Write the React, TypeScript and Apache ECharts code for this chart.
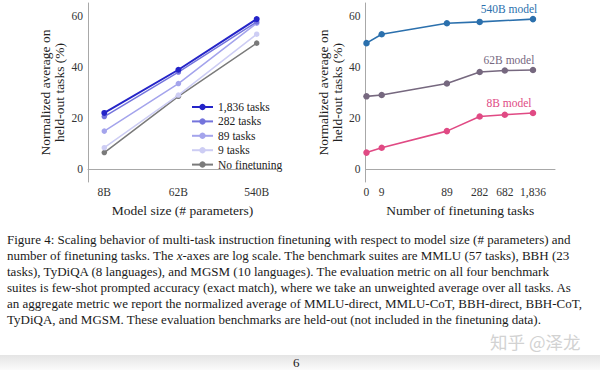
import React, { useEffect, useRef } from "react";
import * as echarts from "echarts";

// ---------- data ----------
const modelSizes = [8, 62, 540];
const modelLabels = ["8B", "62B", "540B"];

const leftSeriesNames = ["1,836 tasks", "282 tasks", "89 tasks", "9 tasks", "No finetuning"];
const tasks1836 = [22.0, 38.9, 58.7];
const tasks282 = [20.6, 38.0, 57.6];
const tasks89 = [14.9, 33.5, 57.1];
const tasks9 = [8.4, 29.0, 52.8];
const noFinetuning = [6.5, 28.5, 49.3];

const taskCounts = [0, 9, 89, 282, 682, 1836];
const taskLabels = ["0", "9", "89", "282", "682", "1,836"];
const model540B = [49.3, 52.8, 57.1, 57.6, null, 58.7];
const model62B = [28.5, 29.0, 33.5, 38.0, 38.6, 38.8];
const model8B = [6.5, 8.4, 14.9, 20.6, 21.3, 22.0];
const rightSeriesNames = ["540B model", "62B model", "8B model"];

const yTicks = [0, 20, 40, 60];

const captionLines = [
  "Figure 4: Scaling behavior of multi-task instruction finetuning with respect to model size (# parameters) and",
  "number of finetuning tasks. The {i|x}-axes are log scale. The benchmark suites are MMLU (57 tasks), BBH (23",
  "tasks), TyDiQA (8 languages), and MGSM (10 languages). The evaluation metric on all four benchmark",
  "suites is few-shot prompted accuracy (exact match), where we take an unweighted average over all tasks. As",
  "an aggregate metric we report the normalized average of MMLU-direct, MMLU-CoT, BBH-direct, BBH-CoT,",
  "TyDiQA, and MGSM. These evaluation benchmarks are held-out (not included in the finetuning data).",
];

// ---------- styling ----------
const FONT = "Liberation Serif";
const leftColors = ["#2424c8", "#7474dc", "#a4a4ec", "#cdcdf4", "#7a7a7a"];
const rightColors = ["#2b70ad", "#76687f", "#e04a84"];
const ZERO_TASK_POS = 0.722; // axis position used for the 0-task baseline on the log axis

const logPos = (n: number) => (n === 0 ? ZERO_TASK_POS : Math.log10(n));

export default function App() {
  const ref = useRef<HTMLDivElement>(null);

  useEffect(() => {
    if (!ref.current) return;
    const chart = echarts.init(ref.current, null, { renderer: "svg" });

    const leftData = [tasks1836, tasks282, tasks89, tasks9, noFinetuning];
    const leftSeries = leftData.map((vals, i) => ({
      name: leftSeriesNames[i],
      type: "line",
      xAxisIndex: 0,
      yAxisIndex: 0,
      data: vals.map((v, j) => [Math.log10(modelSizes[j]), v]),
      symbol: "circle",
      symbolSize: i === 0 ? 6 : 5.5,
      lineStyle: { width: i === 0 ? 2 : 1.5, color: leftColors[i] },
      itemStyle: { color: leftColors[i] },
      z: 10 - i,
    }));

    const rightData = [model540B, model62B, model8B];
    const rightSeries = rightData.map((vals, i) => {
      const pts: any[] = [];
      vals.forEach((v, j) => {
        if (v === null) return;
        pts.push([logPos(taskCounts[j]), v]);
      });
      const last = pts.length - 1;
      const data = pts.map((p, k) =>
        k === last
          ? {
              value: p,
              label: {
                show: true,
                position: "top",
                distance: 2,
                offset: [-24, 1],
                formatter: rightSeriesNames[i],
                color: rightColors[i],
                fontFamily: FONT,
                fontSize: 11.5,
              },
            }
          : { value: p }
      );
      return {
        name: rightSeriesNames[i],
        type: "line",
        xAxisIndex: 1,
        yAxisIndex: 1,
        data,
        symbol: "circle",
        symbolSize: 6.5,
        lineStyle: { width: 1.6, color: rightColors[i] },
        itemStyle: { color: rightColors[i] },
      };
    });

    const axisLine = { show: true, lineStyle: { color: "#a8a8a8", width: 1 } };
    const yAxisCommon = {
      type: "value",
      min: -5,
      max: 65,
      interval: 5,
      axisLine,
      axisTick: { show: false },
      splitLine: { show: false },
      axisLabel: {
        formatter: (v: number) => (yTicks.includes(v) ? String(v) : ""),
        color: "#333",
        fontFamily: FONT,
        fontSize: 11.5,
        margin: 5,
      },
      name: "Normalized average on\nheld-out tasks (%)",
      nameLocation: "middle",
      nameRotate: 90,
      nameTextStyle: { fontFamily: FONT, fontSize: 13.5, color: "#222", lineHeight: 14.5 },
    };

    const leftTickPos = modelSizes.map((s) => Math.log10(s));
    const rightTickPos = taskCounts.map((n) => logPos(n));
    const findLabel = (v: number, pos: number[], labels: string[]) => {
      let best = 0;
      pos.forEach((p, i) => {
        if (Math.abs(p - v) < Math.abs(pos[best] - v)) best = i;
      });
      return labels[best];
    };

    const option: any = {
      animation: false,
      backgroundColor: "#ffffff",
      textStyle: { fontFamily: FONT },
      grid: [
        { left: 88, right: 323, top: 3, bottom: 188 },
        { left: 365.5, right: 45, top: 3, bottom: 188 },
      ],
      legend: {
        data: leftSeriesNames,
        orient: "vertical",
        left: 186,
        top: 96,
        itemWidth: 21,
        itemHeight: 8,
        itemGap: 2.4,
        textStyle: { fontFamily: FONT, fontSize: 11.5, color: "#222", lineHeight: 11 },
      },
      xAxis: [
        {
          type: "value",
          gridIndex: 0,
          min: 0.7074,
          max: 2.976,
          axisLine,
          axisTick: { show: false },
          splitLine: { show: false },
          axisLabel: {
            customValues: leftTickPos,
            formatter: (v: number) => findLabel(v, leftTickPos, modelLabels),
            color: "#333",
            fontFamily: FONT,
            fontSize: 11.5,
            margin: 4,
          },
          name: "Model size (# parameters)",
          nameLocation: "middle",
          nameGap: 21,
          nameTextStyle: { fontFamily: FONT, fontSize: 13.5, color: "#222" },
        },
        {
          type: "value",
          gridIndex: 1,
          min: 0.7069,
          max: 3.6,
          axisLine,
          axisTick: { show: false },
          splitLine: { show: false },
          axisLabel: {
            customValues: rightTickPos,
            formatter: (v: number) => findLabel(v, rightTickPos, taskLabels),
            color: "#333",
            fontFamily: FONT,
            fontSize: 11.5,
            margin: 4,
          },
          name: "Number of finetuning tasks",
          nameLocation: "middle",
          nameGap: 21,
          nameTextStyle: { fontFamily: FONT, fontSize: 13.5, color: "#222" },
        },
      ],
      yAxis: [
        { ...yAxisCommon, gridIndex: 0, nameGap: 21 },
        { ...yAxisCommon, gridIndex: 1, nameGap: 19 },
      ],
      series: [...leftSeries, ...rightSeries],
      graphic: [
        ...captionLines.map((line, i) => ({
          type: "text",
          left: 7,
          top: 233 + i * 16,
          style: {
            text: line,
            fontFamily: FONT,
            fontSize: 13,
            fill: "#1a1a1a",
            rich: {
              i: { fontStyle: "italic", fontFamily: FONT, fontSize: 13, fill: "#1a1a1a" },
            },
          },
        })),
        {
          type: "text",
          left: 490,
          top: 333,
          style: {
            text: "知乎 @泽龙",
            fontFamily: "Noto Sans CJK SC",
            fontSize: 17.5,
            fill: "#d2d2d2",
          },
        },
        {
          type: "rect",
          left: 0,
          top: 355,
          shape: { width: 600, height: 15 },
          style: {
            fill: {
              type: "linear",
              x: 0,
              y: 0,
              x2: 0,
              y2: 1,
              colorStops: [
                { offset: 0, color: "#e4e4e4" },
                { offset: 1, color: "#fbfbfb" },
              ],
            },
          },
          z: -1,
        },
        {
          type: "text",
          left: 293,
          top: 356,
          style: { text: "6", fontFamily: FONT, fontSize: 13, fill: "#1a1a1a" },
        },
      ],
    };

    chart.setOption(option);
    return () => chart.dispose();
  }, []);

  return (
    <div
      ref={ref}
      style={{ position: "absolute", left: 0, top: 0, width: 600, height: 370 }}
    />
  );
}
